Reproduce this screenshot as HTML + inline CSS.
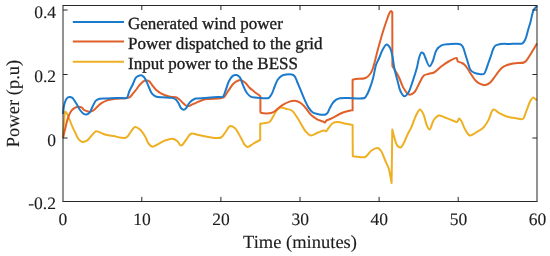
<!DOCTYPE html>
<html><head><meta charset="utf-8"><style>
html,body{margin:0;padding:0;background:#fff;}
body{width:550px;height:256px;overflow:hidden;position:relative;}
svg{position:absolute;left:0;top:0;}
text{font-family:"Liberation Serif","Times New Roman",serif;fill:#1c1c1c;stroke:#1c1c1c;stroke-width:0.12px;text-rendering:geometricPrecision;}
.lg text{stroke-width:0.35px;}
</style></head><body>
<svg width="550" height="256" viewBox="0 0 550 256">
<rect x="0" y="0" width="550" height="256" fill="#fff"/>
<g fill="none" stroke-width="2" stroke-linejoin="round" stroke-linecap="butt">
<path d="M63.00,138.00C63.40,132.00 63.75,124.87 64.20,120.00C64.51,116.67 64.40,111.81 65.20,111.60C65.73,111.46 66.73,113.42 67.40,114.60C68.23,116.06 68.82,117.91 69.60,119.80C70.53,122.05 71.55,124.88 72.60,127.20C73.56,129.32 74.61,131.21 75.60,133.20C76.58,135.17 77.23,137.59 78.50,139.10C79.60,140.41 81.04,141.78 82.50,142.00C83.97,142.23 85.79,141.40 87.30,140.40C89.18,139.16 90.86,136.12 92.50,134.50C93.79,133.22 94.64,131.58 96.20,131.30C98.24,130.93 101.25,133.42 104.00,134.20C106.96,135.04 110.10,135.50 113.40,136.10C117.06,136.77 122.46,138.55 125.00,138.00C126.41,137.70 127.08,136.92 128.00,136.00C129.12,134.88 129.87,132.96 131.00,131.50C132.19,129.96 133.46,127.30 135.00,127.00C136.48,126.72 138.47,128.22 140.00,129.50C141.87,131.07 143.54,133.87 145.00,136.25C146.46,138.62 147.27,141.92 148.75,143.75C149.87,145.13 151.10,146.57 152.50,146.75C154.00,146.94 155.68,145.39 157.50,144.50C159.76,143.39 162.44,141.46 165.00,140.50C167.44,139.58 170.29,138.49 172.50,138.75C174.38,138.97 176.08,140.12 177.50,141.25C178.91,142.37 179.71,145.47 181.00,145.50C182.50,145.54 184.36,141.92 186.00,140.00C187.70,138.01 188.88,134.56 191.00,133.75C193.07,132.96 195.82,134.51 198.50,135.00C201.60,135.57 204.96,136.58 208.50,137.00C212.42,137.47 217.99,138.87 221.00,137.50C223.41,136.40 224.47,133.23 226.00,131.25C227.35,129.50 228.21,126.72 229.75,126.25C231.17,125.82 233.20,126.77 234.75,128.00C237.00,129.79 239.03,134.55 240.75,137.50C242.20,139.98 243.15,142.84 244.50,144.50C245.45,145.66 246.29,146.89 247.50,147.00C249.07,147.14 251.33,144.83 253.25,143.75C255.17,142.67 257.79,141.09 259.00,140.50C259.54,140.24 259.80,140.17 260.20,140.00L260.20,123.75C262.05,123.50 264.09,123.33 265.75,123.00C267.13,122.72 268.38,122.81 269.50,122.00C270.99,120.92 272.02,118.22 273.25,116.25C274.52,114.22 275.56,111.51 277.00,110.00C278.13,108.81 279.35,107.74 280.75,107.50C282.25,107.24 284.01,108.28 285.75,108.75C287.66,109.27 289.92,109.24 291.75,110.50C294.11,112.12 295.91,115.65 298.00,118.75C300.49,122.43 303.01,128.31 305.50,131.25C307.17,133.22 308.56,135.18 310.50,135.50C312.66,135.85 315.60,133.36 318.00,132.50C320.16,131.72 322.82,130.43 324.25,130.50C325.02,130.54 325.45,131.39 326.00,131.25C326.72,131.07 327.17,129.74 328.00,128.75C329.28,127.22 331.13,124.09 333.00,123.00C334.53,122.11 336.17,121.97 338.00,122.00C340.25,122.04 343.03,123.24 345.50,123.75C347.89,124.24 350.23,124.58 352.60,125.00L352.80,156.25C354.87,156.50 356.93,156.87 359.00,157.00C361.08,157.13 363.33,157.82 365.25,157.00C367.56,156.02 369.21,152.02 371.50,150.50C373.51,149.17 376.29,147.64 378.00,148.00C379.39,148.29 380.25,149.78 381.25,151.25C382.68,153.37 383.75,157.08 385.00,160.00C386.25,162.92 387.72,165.42 388.75,168.75C390.03,172.87 390.65,178.25 391.60,183.00L392.30,129.50C392.90,131.83 393.35,134.04 394.10,136.50C394.96,139.33 395.79,143.69 397.25,145.50C398.17,146.64 399.51,147.69 400.50,147.50C401.63,147.29 402.49,145.20 403.50,143.50C404.99,140.98 406.57,136.39 408.00,133.50C409.13,131.22 410.12,129.90 411.25,127.50C412.83,124.13 414.52,118.25 416.25,115.00C417.47,112.71 418.75,109.50 420.00,109.50C421.25,109.50 422.75,112.86 423.75,115.00C424.92,117.50 425.18,121.19 426.25,123.75C427.16,125.93 428.40,129.55 429.50,129.50C430.89,129.44 431.97,122.45 433.75,120.00C435.18,118.03 436.86,115.91 438.75,115.50C440.62,115.10 442.84,116.72 445.00,117.50C447.40,118.36 450.31,119.70 452.50,120.50C454.18,121.12 455.87,122.40 457.00,122.00C458.06,121.62 458.42,118.55 459.20,118.50C459.93,118.45 460.75,120.04 461.50,121.25C462.63,123.08 463.39,126.39 464.75,128.75C466.13,131.14 467.76,135.01 469.75,135.50C471.56,135.95 473.87,133.72 476.00,132.50C478.43,131.11 481.42,129.58 483.50,127.50C485.58,125.42 486.94,122.78 488.50,120.00C490.27,116.85 491.31,110.12 493.40,109.50C494.94,109.04 496.71,111.72 498.75,112.80C501.27,114.14 504.52,115.83 507.50,116.75C510.36,117.63 513.54,117.92 516.25,118.30C518.59,118.63 521.18,119.93 522.80,119.00C524.59,117.98 524.95,114.39 526.10,111.70C527.49,108.44 528.99,103.30 530.50,100.80C531.42,99.28 532.33,97.59 533.30,97.50C534.17,97.42 535.30,99.61 536.00,99.70C536.40,99.75 536.67,99.40 537.00,99.25" stroke="#eeb022"/>
<path d="M63.00,138.00C63.73,134.90 64.46,131.76 65.20,128.70C65.93,125.70 66.58,122.44 67.40,119.80C68.08,117.61 68.76,115.60 69.60,113.90C70.30,112.48 70.99,111.22 71.90,110.20C72.74,109.26 73.72,108.47 74.80,107.90C75.91,107.31 77.26,106.75 78.50,106.75C79.75,106.75 81.30,107.27 82.25,107.90C83.04,108.43 83.21,109.46 84.00,110.00C84.95,110.65 86.72,110.90 87.75,111.25C88.48,111.50 88.98,111.89 89.60,111.90C90.23,111.91 90.84,111.58 91.50,111.30C92.29,110.97 93.13,110.63 94.00,110.00C95.19,109.13 96.47,107.42 97.75,106.25C98.98,105.13 100.10,104.02 101.50,103.10C103.00,102.12 104.80,101.22 106.50,100.60C108.13,100.00 109.87,99.71 111.50,99.40C113.03,99.11 114.39,98.91 116.00,98.75C117.85,98.56 120.12,98.51 122.00,98.40C123.68,98.30 125.34,98.36 126.75,98.10C127.92,97.88 128.94,97.74 129.90,97.10C131.06,96.32 131.91,94.68 133.00,93.40C134.19,91.99 135.86,90.21 136.75,89.00C137.32,88.23 137.43,87.76 138.00,87.00C138.88,85.82 140.53,83.93 141.75,82.80C142.72,81.90 143.71,81.00 144.60,80.60C145.23,80.31 145.74,80.19 146.40,80.25C147.25,80.33 148.37,80.73 149.25,81.40C150.37,82.25 151.23,83.96 152.30,85.30C153.47,86.75 154.62,88.49 156.00,89.80C157.36,91.08 158.95,92.18 160.50,93.10C161.96,93.96 163.52,94.64 165.00,95.20C166.35,95.72 167.75,96.11 169.00,96.40C170.06,96.65 170.94,96.77 172.00,96.90C173.18,97.04 174.55,96.81 175.75,97.20C177.05,97.62 178.30,98.56 179.50,99.50C180.81,100.54 182.02,102.14 183.25,103.25C184.35,104.24 185.43,105.47 186.50,105.90C187.31,106.23 188.09,106.26 188.90,106.10C189.82,105.92 190.66,105.19 191.70,104.70C192.97,104.10 194.30,103.51 196.00,102.80C198.44,101.79 201.66,100.03 205.00,99.30C208.88,98.45 214.92,98.86 218.00,98.50C219.72,98.30 220.87,98.12 222.00,97.80C222.87,97.55 223.57,97.45 224.25,96.90C225.13,96.19 225.74,94.65 226.50,93.50C227.29,92.32 227.95,91.25 228.90,89.90C230.19,88.08 231.88,85.22 233.60,83.60C235.06,82.23 236.84,81.02 238.30,80.50C239.39,80.11 240.35,79.94 241.40,80.20C242.68,80.52 244.07,81.70 245.30,82.80C246.71,84.06 248.03,86.28 249.25,87.50C250.14,88.39 250.83,88.83 251.75,89.60C252.87,90.54 254.22,91.79 255.50,92.75C256.73,93.67 258.39,94.51 259.25,95.25C259.78,95.70 260.02,96.08 260.40,96.50L260.40,112.10C260.85,112.40 261.12,112.78 261.75,113.00C262.86,113.38 265.15,113.41 266.75,113.40C268.22,113.39 269.68,113.34 271.00,113.00C272.25,112.68 273.35,112.22 274.50,111.50C275.86,110.65 277.08,109.11 278.50,108.00C279.97,106.84 281.48,105.72 283.20,104.70C285.09,103.57 287.34,102.25 289.40,101.60C291.24,101.02 293.16,100.64 294.90,100.80C296.55,100.95 298.17,101.62 299.60,102.40C301.03,103.18 302.33,104.38 303.50,105.50C304.62,106.58 305.42,107.68 306.50,109.00C307.85,110.65 309.16,113.01 310.90,114.70C312.71,116.46 315.03,118.11 317.20,119.30C319.21,120.40 322.02,121.09 323.40,121.70C324.12,122.02 324.51,122.61 325.00,122.50C325.60,122.36 325.82,120.99 326.60,120.40C327.68,119.59 329.38,119.45 331.25,118.60C334.30,117.22 339.45,113.87 343.00,112.50C345.72,111.45 348.76,110.83 350.50,110.50C351.41,110.33 351.90,110.33 352.60,110.25L352.60,79.75C353.57,79.50 354.23,79.23 355.50,79.00C357.82,78.59 362.88,79.16 365.50,78.00C367.64,77.05 369.24,75.22 370.50,73.50C371.70,71.87 372.13,70.43 373.00,68.00C374.56,63.61 376.30,55.19 378.00,49.00C379.64,43.04 381.40,36.68 383.00,31.50C384.29,27.32 385.60,23.52 386.75,20.25C387.64,17.71 388.38,15.16 389.25,13.50C389.82,12.42 390.44,11.03 391.00,11.00C391.45,10.98 391.87,12.00 392.30,12.50L392.40,66.25C393.27,67.57 394.08,68.68 395.00,70.20C396.20,72.18 397.67,74.66 398.90,77.20C400.29,80.07 401.37,83.85 402.80,86.60C404.02,88.94 405.34,91.42 406.75,92.80C407.75,93.78 408.74,94.69 409.90,94.70C411.31,94.71 413.21,93.43 414.60,92.00C416.47,90.08 417.67,86.18 419.25,83.40C420.77,80.72 421.98,77.18 423.90,75.60C425.38,74.38 427.29,74.27 429.00,73.75C430.66,73.24 432.27,73.38 434.00,72.50C436.38,71.29 438.95,68.16 441.50,66.25C443.95,64.42 446.44,62.65 449.00,61.25C451.44,59.92 455.13,57.42 456.50,58.00C457.40,58.38 456.95,60.43 457.75,61.25C458.67,62.19 460.83,62.36 462.00,63.00C462.92,63.50 463.52,63.88 464.30,64.60C465.34,65.57 466.43,67.01 467.50,68.50C468.79,70.30 470.00,72.69 471.40,74.75C472.83,76.86 474.29,79.39 476.00,81.00C477.46,82.38 479.11,83.45 480.75,84.10C482.25,84.69 483.88,85.12 485.40,84.90C487.00,84.67 488.71,83.70 490.10,82.60C491.60,81.42 492.73,79.55 494.00,77.90C495.33,76.16 496.54,74.13 497.90,72.40C499.21,70.74 500.58,68.88 502.00,67.70C503.16,66.74 504.14,66.23 505.60,65.60C507.60,64.74 510.32,63.95 513.10,63.40C516.46,62.74 521.81,63.57 524.40,62.25C526.21,61.33 526.86,59.75 528.10,58.10C529.66,56.02 531.29,53.08 532.80,50.60C534.26,48.21 535.60,45.87 537.00,43.50" stroke="#e0602a"/>
<path d="M63.00,114.00C63.47,110.67 63.70,106.68 64.40,104.00C64.90,102.11 65.52,100.49 66.25,99.30C66.78,98.44 67.32,97.69 68.00,97.30C68.59,96.96 69.34,96.84 70.00,96.90C70.68,96.96 71.39,97.29 72.00,97.70C72.65,98.14 73.13,98.71 73.75,99.50C74.71,100.71 75.87,102.78 76.90,104.50C77.96,106.28 78.80,108.39 80.00,110.00C81.11,111.49 82.49,113.19 83.75,113.90C84.66,114.41 85.59,114.66 86.50,114.50C87.54,114.31 88.68,113.52 89.60,112.50C90.87,111.09 91.68,108.27 92.75,106.25C93.78,104.31 94.58,101.87 95.90,100.60C96.96,99.59 98.13,99.14 99.60,98.75C101.50,98.25 104.02,98.50 106.50,98.40C109.41,98.28 113.20,98.17 116.00,98.10C118.23,98.05 120.12,98.02 122.00,98.00C123.68,97.99 125.57,98.81 126.75,98.00C128.18,97.02 128.27,93.72 129.25,91.50C130.32,89.06 131.88,86.40 133.00,84.00C134.01,81.85 134.62,79.11 135.70,77.80C136.39,76.95 137.13,76.61 138.00,76.20C138.95,75.75 140.19,75.14 141.20,75.30C142.23,75.46 143.28,76.31 144.10,77.20C145.07,78.25 145.66,79.88 146.40,81.40C147.23,83.11 148.00,85.17 148.80,87.00C149.57,88.77 150.21,90.78 151.10,92.20C151.82,93.34 152.58,94.24 153.50,95.00C154.39,95.73 155.30,96.31 156.50,96.70C158.02,97.19 159.89,97.12 162.00,97.30C164.84,97.54 169.51,97.31 172.00,97.90C173.59,98.28 174.68,98.66 175.75,99.50C176.90,100.40 177.76,101.88 178.60,103.25C179.49,104.70 179.91,106.88 180.90,108.00C181.69,108.89 182.81,109.79 183.70,109.80C184.50,109.81 185.31,109.11 186.00,108.40C186.93,107.44 187.55,105.43 188.40,104.20C189.14,103.13 189.87,102.19 190.75,101.40C191.61,100.63 192.66,99.98 193.60,99.50C194.41,99.09 194.84,98.85 196.00,98.60C198.71,98.01 205.98,97.92 210.00,97.60C213.04,97.36 215.68,97.00 218.00,96.90C219.77,96.82 221.47,97.70 222.70,96.90C224.28,95.87 224.81,92.37 225.80,89.90C226.88,87.20 227.61,83.77 228.90,81.30C230.01,79.18 231.27,76.79 232.80,75.80C233.98,75.03 235.56,74.73 236.75,75.00C237.93,75.27 238.99,76.20 239.90,77.40C241.23,79.15 241.85,82.62 243.00,85.20C244.18,87.83 245.39,91.00 246.90,93.00C248.07,94.56 249.37,95.84 250.80,96.60C252.09,97.29 253.50,97.37 255.00,97.60C256.70,97.86 258.49,97.93 260.50,98.00C262.94,98.09 266.92,98.74 268.60,98.00C269.59,97.56 269.94,96.66 270.50,95.90C271.07,95.13 271.48,94.46 272.00,93.40C272.82,91.74 273.67,88.99 274.60,86.75C275.57,84.42 276.39,81.61 277.70,79.70C278.80,78.08 280.11,76.65 281.60,75.80C283.00,75.00 284.60,74.80 286.30,74.60C288.23,74.37 291.08,74.14 292.60,74.70C293.64,75.08 294.22,75.70 294.90,76.60C295.85,77.87 296.37,79.95 297.25,82.00C298.40,84.70 299.93,88.35 301.20,91.40C302.40,94.28 303.45,97.07 304.70,99.80C305.92,102.47 307.16,105.40 308.60,107.60C309.80,109.44 310.97,111.25 312.50,112.30C313.88,113.25 315.41,113.51 317.20,113.90C319.45,114.39 323.22,115.16 325.00,114.70C326.06,114.43 326.61,113.89 327.30,113.10C328.25,112.02 328.83,110.02 329.70,108.40C330.65,106.63 331.65,104.41 332.80,102.90C333.76,101.64 334.70,100.58 335.90,99.80C337.10,99.03 338.42,98.58 340.00,98.25C342.00,97.83 344.15,97.96 347.00,97.90C351.47,97.80 361.31,99.30 364.25,98.00C365.55,97.43 365.79,96.57 366.50,95.50C367.48,94.03 368.33,92.02 369.25,89.75C370.50,86.66 371.91,82.45 373.00,78.50C374.18,74.23 374.76,68.75 376.00,65.00C376.94,62.15 378.14,60.29 379.25,57.75C380.47,54.98 381.56,51.35 383.00,49.00C384.13,47.15 385.51,44.56 386.75,44.50C387.84,44.45 389.12,46.26 390.00,47.75C391.24,49.85 391.81,53.37 392.50,56.50C393.27,60.00 393.47,63.96 394.25,67.80C395.08,71.88 396.32,76.28 397.40,80.30C398.41,84.08 399.06,88.41 400.50,91.25C401.57,93.37 403.03,96.12 404.40,96.25C405.64,96.36 407.12,94.51 408.30,92.80C410.18,90.06 411.56,84.49 413.00,80.30C414.43,76.15 415.82,71.84 416.90,67.80C417.89,64.09 418.33,59.78 419.30,57.00C419.95,55.13 420.61,52.80 421.50,52.50C422.10,52.30 422.94,52.91 423.50,53.50C424.29,54.33 424.52,55.92 425.25,57.50C426.34,59.86 428.10,66.16 429.50,66.25C430.59,66.32 431.75,63.33 432.75,61.25C434.16,58.32 434.72,52.79 436.50,50.00C437.86,47.88 439.49,46.27 441.50,45.30C443.62,44.28 446.24,44.40 449.00,44.20C452.36,43.95 458.02,43.34 460.25,44.20C461.41,44.65 461.80,45.19 462.50,46.25C463.79,48.21 464.90,52.92 465.90,56.00C466.79,58.73 467.42,61.36 468.25,63.80C469.00,66.00 469.42,68.44 470.60,70.00C471.61,71.34 473.06,72.23 474.50,72.90C475.93,73.56 477.62,73.82 479.20,74.00C480.76,74.18 482.74,74.72 483.90,74.00C485.12,73.24 485.48,71.05 486.20,69.30C487.06,67.21 487.79,64.52 488.60,62.25C489.36,60.10 490.17,58.11 490.90,56.00C491.64,53.86 492.13,51.36 493.00,49.50C493.72,47.95 494.33,46.40 495.50,45.50C496.67,44.60 498.18,44.40 500.00,44.10C502.65,43.67 506.85,43.97 510.00,43.90C512.82,43.84 515.72,43.83 518.00,43.70C519.72,43.60 521.29,43.99 522.50,43.30C523.74,42.59 524.48,41.07 525.30,39.40C526.47,37.02 527.20,33.02 528.10,30.00C528.93,27.20 529.66,24.88 530.50,21.90C531.52,18.28 532.28,12.59 533.75,9.80C534.68,8.04 535.92,7.27 537.00,6.00" stroke="#1a7acc"/>
</g>
<g stroke="#262626" stroke-width="1" fill="none">
<line x1="62.5" y1="5.5" x2="537.5" y2="5.5"/>
<line x1="62.5" y1="201.5" x2="537.5" y2="201.5"/>
<line x1="63.0" y1="5.5" x2="63.0" y2="201.5"/>
<line x1="537.0" y1="5.5" x2="537.0" y2="201.5"/>
<line x1="141.80" y1="201.5" x2="141.80" y2="196.9"/><line x1="141.80" y1="5.5" x2="141.80" y2="10.1"/><line x1="220.90" y1="201.5" x2="220.90" y2="196.9"/><line x1="220.90" y1="5.5" x2="220.90" y2="10.1"/><line x1="300.00" y1="201.5" x2="300.00" y2="196.9"/><line x1="300.00" y1="5.5" x2="300.00" y2="10.1"/><line x1="379.10" y1="201.5" x2="379.10" y2="196.9"/><line x1="379.10" y1="5.5" x2="379.10" y2="10.1"/><line x1="458.20" y1="201.5" x2="458.20" y2="196.9"/><line x1="458.20" y1="5.5" x2="458.20" y2="10.1"/><line x1="63.0" y1="10.0" x2="67.6" y2="10.0"/><line x1="537.0" y1="10.0" x2="532.4" y2="10.0"/><line x1="63.0" y1="74.5" x2="67.6" y2="74.5"/><line x1="537.0" y1="74.5" x2="532.4" y2="74.5"/><line x1="63.0" y1="138.0" x2="67.6" y2="138.0"/><line x1="537.0" y1="138.0" x2="532.4" y2="138.0"/><line x1="63.0" y1="201.5" x2="67.6" y2="201.5"/><line x1="537.0" y1="201.5" x2="532.4" y2="201.5"/>
</g>
<g font-size="17.5">
<text x="62.90" y="225.0" text-anchor="middle">0</text><text x="142.00" y="225.0" text-anchor="middle">10</text><text x="221.10" y="225.0" text-anchor="middle">20</text><text x="300.20" y="225.0" text-anchor="middle">30</text><text x="379.30" y="225.0" text-anchor="middle">40</text><text x="458.40" y="225.0" text-anchor="middle">50</text><text x="537.50" y="225.0" text-anchor="middle">60</text>
<text x="56.0" y="209.00" text-anchor="end">-0.2</text><text x="56.0" y="145.50" text-anchor="end">0</text><text x="56.0" y="82.00" text-anchor="end">0.2</text><text x="56.0" y="17.50" text-anchor="end">0.4</text>
</g>
<g fill="none" stroke-width="2">
<line x1="72.8" y1="21.9" x2="124" y2="21.9" stroke="#1a7acc"/>
<line x1="72.8" y1="41.5" x2="124" y2="41.5" stroke="#e0602a"/>
<line x1="72.8" y1="61.8" x2="124" y2="61.8" stroke="#eeb022"/>
</g>
<g font-size="17" class="lg">
<text x="128" y="28.8">Generated wind power</text>
<text x="128" y="48.9">Power dispatched to the grid</text>
<text x="128" y="69.1">Input power to the BESS</text>
</g>
<text x="300" y="247.8" font-size="18.5" text-anchor="middle">Time (minutes)</text>
<text transform="translate(18.8,103.5) rotate(-90)" font-size="18.5" text-anchor="middle">Power (p.u)</text>
</svg>
</body></html>
